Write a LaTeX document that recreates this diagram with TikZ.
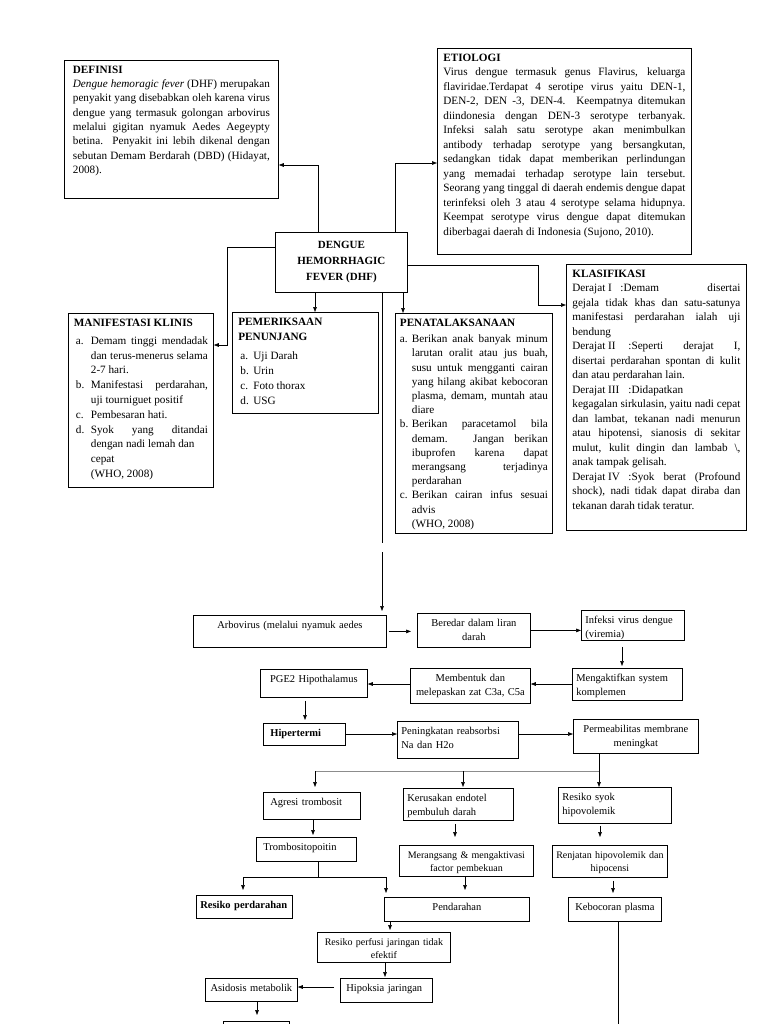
\documentclass[tikz,border=0pt]{standalone}
\usepackage{fontspec}
\setmainfont{Liberation Serif}
\usetikzlibrary{arrows.meta}

\begin{document}
\begin{tikzpicture}[x=1pt, y=-1pt,
	infobox/.style={draw, line width=0.8pt, anchor=north west, inner xsep=6pt,
		inner ysep=5pt, align=justify, text height=8pt},
	mainbox/.style={draw, line width=0.8pt, anchor=north west, inner sep=0pt,
		minimum width=132pt, minimum height=60pt, align=center},
	flow/.style={draw, line width=0.8pt, anchor=north west, inner xsep=4pt,
		inner ysep=4pt, text height=9pt, font=\fontFlow},
	arr/.style={-{Triangle[length=5pt,width=3.6pt]}, line width=0.6pt}]

	\newcommand\fontDef{\fontsize{11.2}{14.3}\selectfont\hyphenpenalty=10000\exhyphenpenalty=10000}
	\newcommand\fontBody{\fontsize{11.2}{14.5}\selectfont\hyphenpenalty=10000\exhyphenpenalty=10000}
	\newcommand\fontPenat{\fontsize{11.2}{14.2}\selectfont\hyphenpenalty=10000\exhyphenpenalty=10000}
	\newcommand\fontManif{\fontsize{11.2}{14.8}\selectfont\hyphenpenalty=10000\exhyphenpenalty=10000}
	\newcommand\fontPem{\fontsize{11.2}{15}\selectfont}
	\newcommand\fontFlow{\fontsize{10.5}{14}\selectfont\hyphenpenalty=10000}
	\newcommand\fontFlowSm{\fontsize{10}{13}\selectfont\hyphenpenalty=10000}
	\newcommand\litem[3][17pt]{\par\hangindent=#1\hangafter=1\noindent\makebox[#1][l]{\hspace{2pt}#2}#3}

\useasboundingbox (0,0) rectangle (768,1024);
\clip (0,0) rectangle (768,1024);

%% upper part: the disease and its six boxes
\node[mainbox, font=\bfseries\fontsize{11}{16}\selectfont] (dhf) at (275,232)
	{DENGUE\\HEMORRHAGIC\\FEVER (DHF)};

\node[infobox, inner xsep=8.5pt, text width=197pt, text depth=120pt, font=\fontDef] (def) at (64,60)
	{{\bfseries DEFINISI}\par
	\textit{Dengue hemoragic fever} (DHF) merupakan\linebreak
	penyakit yang disebabkan oleh karena virus\linebreak
	dengue yang termasuk golongan arbovirus\linebreak
	melalui gigitan nyamuk Aedes Aegeypty\linebreak
	betina. Penyakit ini lebih dikenal dengan\linebreak
	sebutan Demam Berdarah (DBD) (Hidayat,\linebreak
	2008).\par};

\node[infobox, text width=242pt, text depth=188pt, font=\fontBody] (etio) at (437,48)
	{{\bfseries ETIOLOGI}\par
	Virus dengue termasuk genus Flavirus, keluarga\linebreak
	flaviridae.Terdapat 4 serotipe virus yaitu DEN-1,\linebreak
	DEN-2, DEN -3, DEN-4. Keempatnya ditemukan\linebreak
	diindonesia dengan DEN-3 serotype terbanyak.\linebreak
	Infeksi salah satu serotype akan menimbulkan\linebreak
	antibody terhadap serotype yang bersangkutan,\linebreak
	sedangkan tidak dapat memberikan perlindungan\linebreak
	yang memadai terhadap serotype lain tersebut.\linebreak
	Seorang yang tinggal di daerah endemis dengue dapat\linebreak
	terinfeksi oleh 3 atau 4 serotype selama hidupnya.\linebreak
	Keempat serotype virus dengue dapat ditemukan\linebreak
	diberbagai daerah di Indonesia (Sujono, 2010).\par};

\node[infobox, inner xsep=5.5pt, text width=134pt, text depth=156pt, font=\fontManif] (manif) at (68,313)
	{{\bfseries MANIFESTASI KLINIS}\par\vspace{3pt}
	\litem{a.}{Demam tinggi mendadak\linebreak dan terus-menerus selama\linebreak 2-7 hari.}
	\litem{b.}{Manifestasi perdarahan,\linebreak uji tourniguet positif}
	\litem{c.}{Pembesaran hati.}
	\litem{d.}{Syok yang ditandai\linebreak dengan nadi lemah dan\newline cepat\newline (WHO, 2008)}\par};

\node[infobox, text width=134pt, text depth=83pt, font=\fontPem] (pemer) at (232,312)
	{{\bfseries PEMERIKSAAN\newline PENUNJANG}\par\vspace{4pt}
	\litem[15pt]{a.}{Uji Darah}
	\litem[15pt]{b.}{Urin}
	\litem[15pt]{c.}{Foto thorax}
	\litem[15pt]{d.}{USG}\par};

\node[infobox, inner xsep=4.5pt, text width=148pt, text depth=202pt, font=\fontPenat] (penat) at (395,313)
	{{\bfseries PENATALAKSANAAN}\par\vspace{2pt}
	\litem[12pt]{\hspace{-2pt}a.}{Berikan anak banyak minum\linebreak larutan oralit atau jus buah,\linebreak
		susu untuk mengganti cairan\linebreak yang hilang akibat kebocoran\linebreak
		plasma, demam, muntah atau\linebreak diare}
	\litem[12pt]{\hspace{-2pt}b.}{Berikan paracetamol bila\linebreak demam. Jangan berikan\linebreak
		ibuprofen karena dapat\linebreak merangsang terjadinya\linebreak perdarahan}
	\litem[12pt]{\hspace{-2pt}c.}{Berikan cairan infus sesuai\linebreak advis\newline (WHO, 2008)}\par};

\node[infobox, text width=168pt, text depth=248pt, font=\fontBody] (klas) at (566,264)
	{{\bfseries KLASIFIKASI}\par
	\makebox[48pt][l]{Derajat I}:Demam disertai\linebreak
	gejala tidak khas dan satu-satunya\linebreak
	manifestasi perdarahan ialah uji\linebreak
	bendung\par
	\makebox[56pt][l]{Derajat II}:Seperti derajat I,\linebreak
	disertai perdarahan spontan di kulit\linebreak
	dan atau perdarahan lain.\par
	\makebox[56pt][l]{Derajat III}:Didapatkan\newline
	kegagalan sirkulasin, yaitu nadi cepat\linebreak
	dan lambat, tekanan nadi menurun\linebreak
	atau hipotensi, sianosis di sekitar\linebreak
	mulut, kulit dingin dan lambab \textbackslash,\linebreak
	anak tampak gelisah.\par
	\makebox[56pt][l]{Derajat IV}:Syok berat (Profound\linebreak
	shock), nadi tidak dapat diraba dan\linebreak
	tekanan darah tidak teratur.\par};

\draw[arr] (dhf.north -| 318,0) |- (def.east |- 0,165);
\draw[arr] (dhf.north -| 395,0) |- (etio.west |- 0,163);
\draw[arr] (dhf.west |- 0,247) -| (227,345) -- (manif.east |- 0,345);
\draw[arr] (dhf.south -| 315,0) -- (pemer.north -| 315,0);
\draw[arr] (dhf.south -| 403,0) -- (penat.north -| 403,0);
\draw[arr] (dhf.east |- 0,265) -| (538,305) -- (klas.west |- 0,305);

%% lower part: the pathway
\node[flow, text width=185pt, text depth=15pt, align=center] (arbo) at (193,615) {Arbovirus (melalui nyamuk aedes};
\node[flow, text width=105pt, text depth=17pt, align=center] (beredar) at (417,613) {Beredar dalam liran\\darah};
\node[flow, text width=95pt, text depth=13pt, align=left] (infeksi) at (581,610) {Infeksi virus dengue\\(viremia)};
\node[flow, text width=102pt, text depth=15pt, align=left] (mengaktif) at (572,668) {Mengaktifkan system\\komplemen};
\node[flow, text width=112pt, text depth=18pt, align=center] (membentuk) at (410,668) {Membentuk dan\\melepaskan zat C3a, C5a};
\node[flow, text width=99pt, text depth=11pt, align=center] (pge2) at (260,669) {PGE2 Hipothalamus};
\node[flow, text width=74pt, text depth=5pt, align=left] (hiper) at (263,723) {\hspace{3pt}\bfseries Hipertermi};
\node[flow, text width=113pt, text depth=20pt, align=left] (pening) at (397,721) {Peningkatan reabsorbsi\\Na dan H2o};
\node[flow, text width=117pt, text depth=17pt, align=center] (perme) at (573,719) {Permeabilitas membrane\\meningkat};
\node[flow, text width=89pt, text depth=10pt, align=left] (agresi) at (263,792) {\hspace{3pt}Agresi trombosit};
\node[flow, text width=102pt, text depth=15pt, align=left] (kerusakan) at (403,788) {Kerusakan endotel\\pembuluh darah};
\node[flow, text width=105pt, text depth=19pt, align=left] (syok) at (558,787) {Resiko syok\\hipovolemik};
\node[flow, text width=92pt, text depth=7pt, align=left] (trombo) at (256,837) {\hspace{3pt}Trombositopoitin};
\node[flow, font=\fontFlowSm, text width=126pt, text depth=14pt, align=center] (merang) at (399,845) {Merangsang \& mengaktivasi\\factor pembekuan};
\node[flow, font=\fontFlowSm, inner xsep=1pt, text width=113pt, text depth=15pt, align=center] (renjat) at (552,845) {Renjatan hipovolemik dan\\hipocensi};
\node[flow, text width=88pt, text depth=6pt, align=left] (rperd) at (196,895) {\bfseries Resiko perdarahan};
\node[flow, text width=137pt, text depth=7pt, align=center] (pendar) at (384,897) {Pendarahan};
\node[flow, text width=85pt, text depth=7pt, align=center] (keboc) at (568,897) {Kebocoran plasma};
\node[flow, font=\fontFlowSm, text width=125pt, text depth=13pt, align=center] (perfusi) at (317,932) {Resiko perfusi jaringan tidak\\efektif};
\node[flow, text width=84pt, text depth=7pt, align=left] (hipoksia) at (340,978) {\hspace{2pt}Hipoksia jaringan};
\node[flow, text width=84pt, text depth=6pt, align=center] (asidosis) at (205,978) {Asidosis metabolik};
\node[flow, text width=58pt, text depth=13pt] (last) at (223,1021) {};

% long line from the disease box down to the pathway
\coordinate (gapTop) at (382,543);
\coordinate (gapBot) at (382,552);
\draw[line width=0.6pt] (dhf.south -| gapTop) -- (gapTop);
\draw[arr, shorten >=4pt] (gapBot) -- (arbo.north -| gapBot);

\draw[arr, shorten <=2pt, shorten >=6pt] (arbo.east) -- (arbo.east -| beredar.west);
\draw[arr] (beredar.east) -- (beredar.east -| infeksi.west);
\draw[arr, shorten <=6pt, shorten >=2pt] (infeksi.south -| 622,0) -- (mengaktif.north -| 622,0);
\draw[arr] (mengaktif.west |- 0,684) -- (membentuk.east |- 0,684);
\draw[arr] (membentuk.west |- 0,684) -- (pge2.east |- 0,684);
\draw[arr, shorten <=3pt, shorten >=3pt] (pge2.south -| 305,0) -- (hiper.north -| 305,0);
\draw[arr] (hiper.east |- 0,734) -- (pening.west |- 0,734);
\draw[arr] (pening.east |- 0,734) -- (perme.west |- 0,734);

% three branches under the permeability box
\coordinate (brL) at (315,771);
\coordinate (brM) at (463,771);
\coordinate (brR) at (599,771);
\draw[line width=0.6pt] (perme.south -| brR) -- (brR);
\draw[line width=0.6pt, black!45] (brL) -- (brR);
\draw[arr, shorten >=5pt] (brL) -- (agresi.north -| brL);
\draw[arr, shorten >=1pt] (brM) -- (kerusakan.north -| brM);
\draw[arr] (brR) -- (syok.north -| brR);

\draw[arr, shorten >=2pt] (agresi.south -| 313,0) -- (trombo.north -| 313,0);
\draw[arr, shorten <=3pt, shorten >=8pt] (kerusakan.south -| 455,0) -- (merang.north -| 455,0);
\draw[arr, shorten <=2pt, shorten >=8pt] (syok.south -| 600,0) -- (renjat.north -| 600,0);

\coordinate (spL) at (243,877);
\coordinate (spR) at (386,877);
\draw[line width=0.6pt] (trombo.south -| 318,0) -- (318,877);
\draw[line width=0.6pt] (spL) -- (spR);
\draw[arr, shorten >=5pt] (spL) -- (rperd.north -| spL);
\draw[arr, shorten >=4pt] (spR) -- (pendar.north -| spR);
\draw[arr, shorten >=7pt] (merang.south -| 465,0) -- (pendar.north -| 465,0);
\draw[arr, shorten <=3pt, shorten >=4pt] (renjat.south -| 613,0) -- (keboc.north -| 613,0);

\coordinate (kebEnd) at (618,1030);
\draw[line width=0.6pt] (keboc.south -| kebEnd) -- (kebEnd);
\draw[arr, shorten >=2pt] (pendar.south -| 390,0) -- (perfusi.north -| 390,0);
\draw[arr, shorten >=1pt] (perfusi.south -| 385,0) -- (hipoksia.north -| 385,0);
\draw[arr, shorten <=6pt] (hipoksia.west |- 0,987) -- (asidosis.east |- 0,987);
\draw[arr, shorten >=6pt] (asidosis.south -| 257,0) -- (last.north -| 257,0);

\end{tikzpicture}
\end{document}
